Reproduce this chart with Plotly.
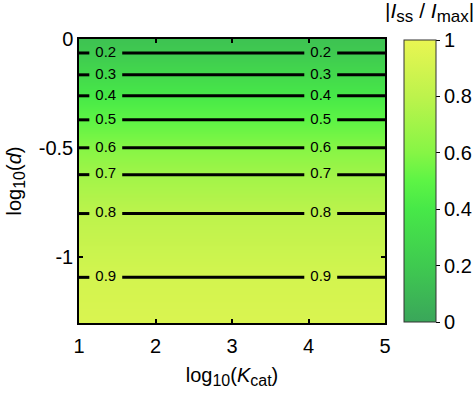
import plotly.graph_objects as go

# Data
x_vals = [1, 2, 3, 4, 5]                       # log10(Kcat)
y_vals = [0.0, -0.064, -0.164, -0.26, -0.37, -0.498, -0.621, -0.799, -1.091, -1.3]  # log10(d)
z_profile = [0.16, 0.2, 0.3, 0.4, 0.5, 0.6, 0.7, 0.8, 0.9, 0.93]  # |Iss/Imax| (constant along x)
contour_levels = [0.2, 0.3, 0.4, 0.5, 0.6, 0.7, 0.8, 0.9]
label_x = [1.35, 4.16]                          # where the contour labels sit
x_ticks = [1, 2, 3, 4, 5]
y_ticks = [0, -0.5, -1]
y_ticklabels = ["0", "-0.5", "-1"]
cb_ticks = [0, 0.2, 0.4, 0.6, 0.8, 1]
cb_ticklabels = ["0", "0.2", "0.4", "0.6", "0.8", "1"]

z = [[v for _ in x_vals] for v in z_profile]
level_y = {round(v, 2): yy for v, yy in zip(z_profile, y_vals)}

colorscale = [
    [0.0, "#3aa65a"],
    [0.2, "#3fca50"],
    [0.4, "#47e848"],
    [0.5, "#5df445"],
    [0.6, "#86f545"],
    [0.8, "#bdf34c"],
    [1.0, "#e9f552"],
]

font = "Liberation Sans, Arial, sans-serif"
half_gap = 0.215


def sub(t, size=16):
    return f'<sub><span style="font-size:{size}px">{t}</span></sub>'


fig = go.Figure()
fig.add_trace(go.Heatmap(
    x=x_vals, y=y_vals, z=z, zmin=0, zmax=1, zsmooth="best",
    colorscale=colorscale, hoverinfo="skip",
    colorbar=dict(
        thickness=32, len=0.993, lenmode="fraction",
        x=1.062, xanchor="left", y=0.5, yanchor="middle",
        tickvals=cb_ticks, ticktext=cb_ticklabels,
        ticks="outside", ticklen=4, tickcolor="black",
        outlinewidth=1, outlinecolor="#333",
        tickfont=dict(family=font, size=20, color="black"),
        xpad=0, ypad=0,
    ),
))

for lev in contour_levels:
    yy = level_y[round(lev, 2)]
    xs = [1, label_x[0] - half_gap, None,
          label_x[0] + half_gap, label_x[1] - half_gap, None,
          label_x[1] + half_gap, 5]
    ys = [yy if x is not None else None for x in xs]
    fig.add_trace(go.Scatter(
        x=xs, y=ys, mode="lines", line=dict(color="black", width=3),
        hoverinfo="skip", showlegend=False,
    ))
    fig.add_trace(go.Scatter(
        x=label_x, y=[yy, yy], mode="text", text=[f"{lev:.1f}"] * 2,
        textposition="middle center",
        textfont=dict(family=font, size=15, color="black"),
        hoverinfo="skip", showlegend=False,
    ))

fig.add_annotation(
    text="|<i>I</i>" + sub("ss", 17) + " / <i>I</i>" + sub("max", 17) + "|",
    x=1.144, y=1.092, xref="paper", yref="paper",
    xanchor="center", yanchor="middle", showarrow=False,
    font=dict(family=font, size=21, color="black"),
)

fig.update_layout(
    width=474, height=394,
    margin=dict(l=79, r=89, t=39, b=71, autoexpand=False),
    paper_bgcolor="white", plot_bgcolor="white",
    font=dict(family=font, size=20, color="black"),
    showlegend=False,
)
fig.update_xaxes(
    range=[1, 5], tickvals=x_ticks, ticks="inside", ticklen=4, tickwidth=1.5,
    tickcolor="black", showline=True, linecolor="black", linewidth=1.5,
    mirror="allticks", showgrid=False, zeroline=False, ticklabelstandoff=4,
    title=dict(text="log" + sub("10") + "(<i>K</i>" + sub("cat") + ")",
               standoff=12, font=dict(family=font, size=20)),
    tickfont=dict(family=font, size=20),
)
fig.update_yaxes(
    range=[-1.3, 0], tickvals=y_ticks, ticktext=y_ticklabels, ticks="inside",
    ticklen=4, tickwidth=1.5, tickcolor="black", showline=True,
    linecolor="black", linewidth=1.5, mirror="allticks", showgrid=False,
    zeroline=False,
    title=dict(text="log" + sub("10") + "(<i>d</i>)", standoff=12,
               font=dict(family=font, size=20)),
    tickfont=dict(family=font, size=20),
)

fig.write_html("out.html", config={"displayModeBar": False},
               post_script="document.body.style.margin='0';")
